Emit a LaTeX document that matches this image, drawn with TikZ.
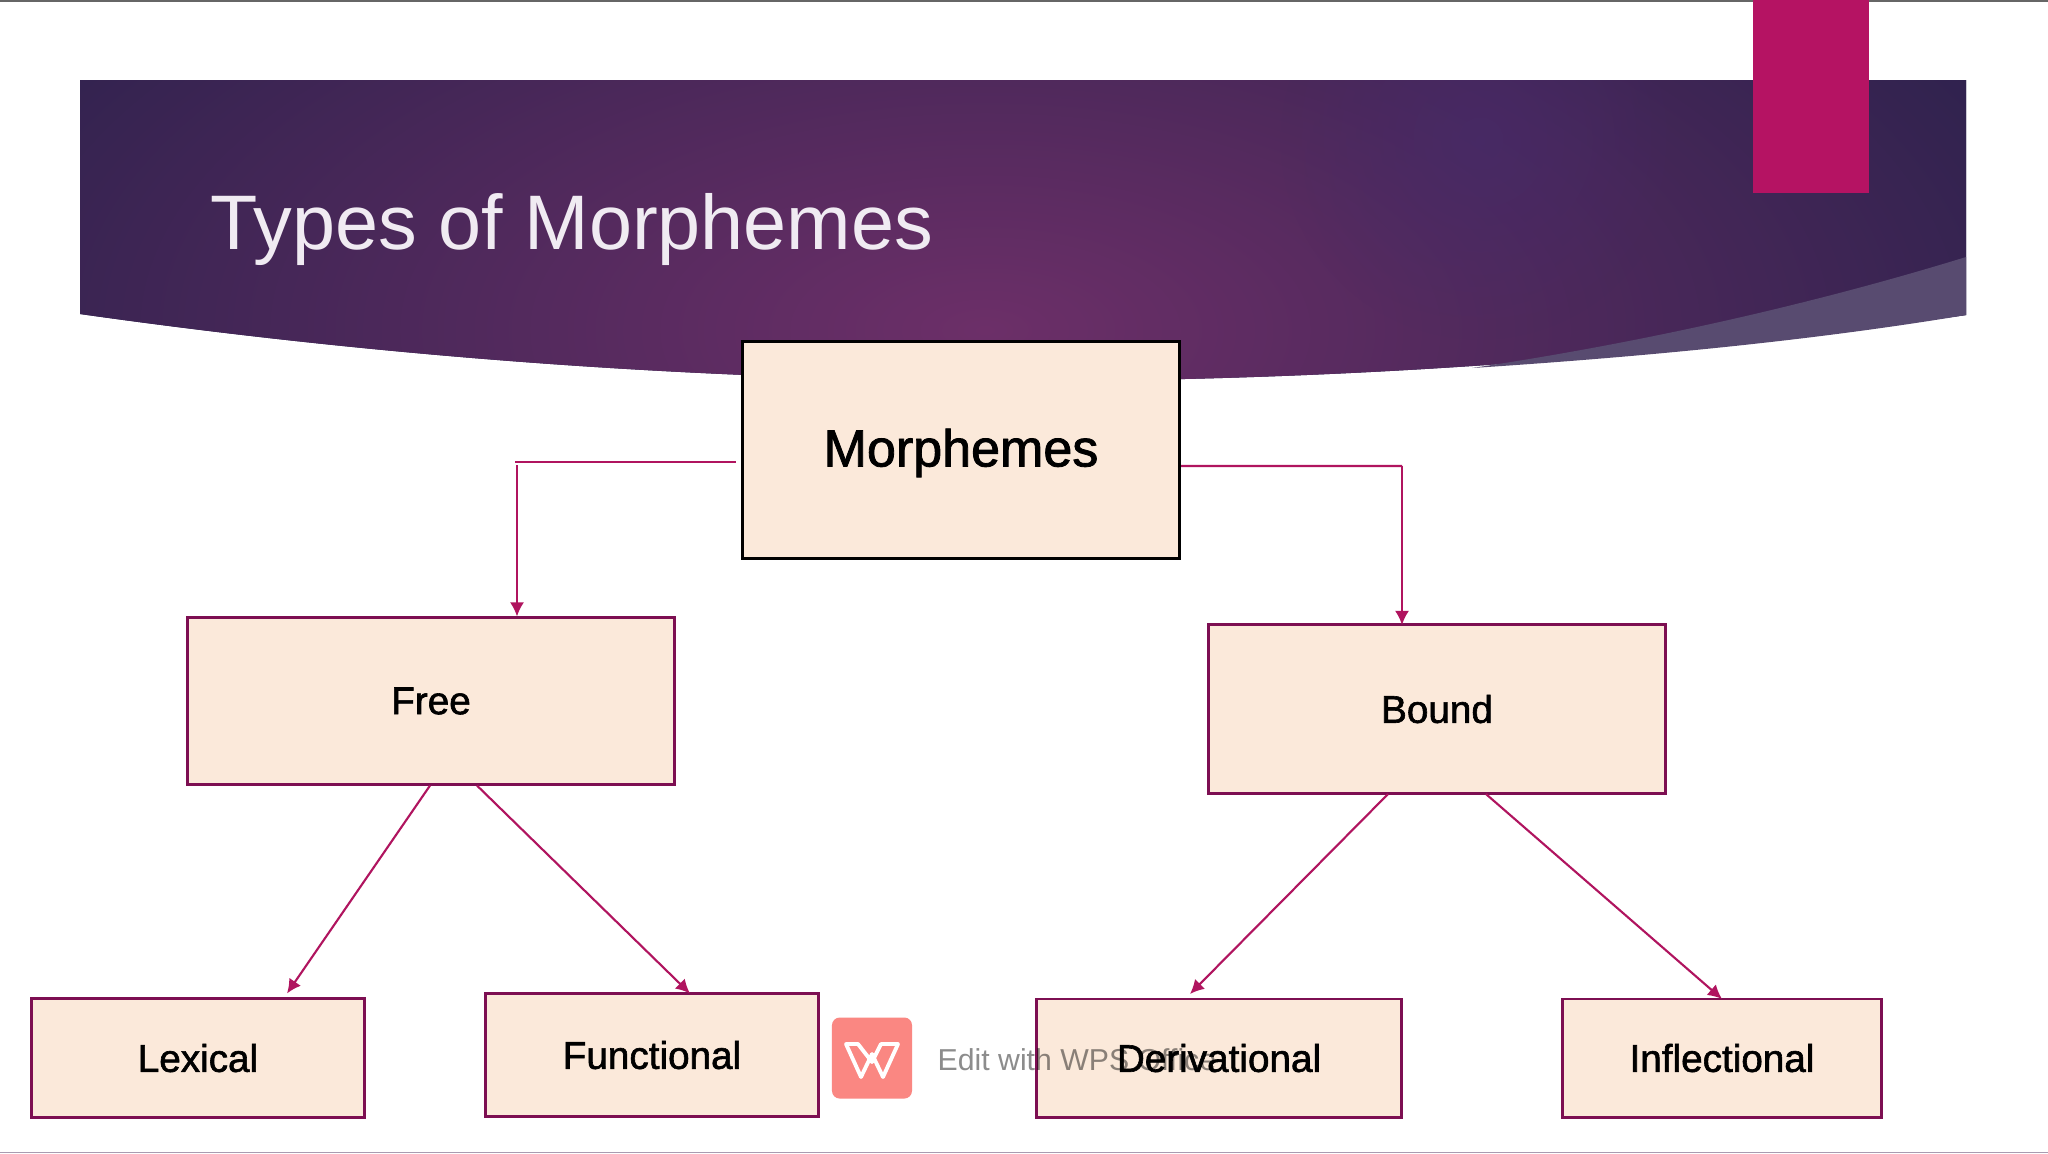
\documentclass[tikz,border=0pt]{standalone}
\usepackage{fontspec}
\setmainfont{Liberation Sans}
\usetikzlibrary{arrows.meta,calc,fadings}
\definecolor{bannerdark}{HTML}{26204A}
\definecolor{bannerglow}{HTML}{6C2F68}
\definecolor{bannerspot}{HTML}{472A68}
\definecolor{swoosh}{HTML}{584B70}
\definecolor{crimson}{HTML}{B51363}
\definecolor{boxfill}{HTML}{FBE9DA}
\definecolor{boxline}{HTML}{7D0F52}
\definecolor{linkline}{HTML}{B0145F}
\definecolor{wpsred}{HTML}{FA8782}
\definecolor{titletext}{HTML}{F0EBF2}
\definecolor{edgeline}{HTML}{A99BB0}
\tikzfading[name=spotfade,inner color=transparent!25,outer color=transparent!100]
\tikzset{
  morphbox/.style={draw=black,line width=0.85pt,fill=boxfill,outer sep=0pt,inner sep=0pt,text=black},
  typebox/.style={draw=boxline,line width=0.85pt,fill=boxfill,outer sep=0pt,inner sep=0pt,text=black},
  link/.style={draw=linkline,line width=0.6pt},
  arrowlink/.style={link,-{Latex[length=4pt,width=4pt]}},
  label/.style={font=\fontsize{11pt}{13pt}\selectfont\addfontfeature{FakeBold=1.6}}
}
\begin{document}
\begin{tikzpicture}[x=0.01cm,y=-0.01cm]
  \useasboundingbox (0,0) rectangle (2048,1153);
  \fill[white] (0,0) rectangle (2048,1153);
  \fill[black!60] (0,0) rectangle (2048,1.5);
  \fill[edgeline] (0,1151.5) rectangle (2048,1153);
  % banner
  \begin{scope}
    \clip (80,80) -- (1966,80) -- (1966,315) .. controls (1337,403) and (709,403) .. (80,314) -- cycle;
    \fill[bannerdark] (0,0) rectangle (2048,500);
    \shade[inner color=bannerglow,outer color=bannerdark] (985,330) ellipse (1300 and 620);
    \fill[bannerspot,path fading=spotfade] (1480,140) ellipse (200 and 200);
  \end{scope}
  \fill[swoosh] (1472,368) .. controls (1640,343) and (1810,305) .. (1966,257) -- (1966,315) .. controls (1810,341) and (1640,357) .. cycle;
  \fill[crimson] (1753,0) rectangle (1869,193);
  \node[anchor=base west,text=titletext,inner sep=0pt,font=\fontsize{22pt}{26pt}\selectfont] (title) at (210,249) {Types of Morphemes};
  % boxes
  \node[morphbox,minimum width=4.36cm,minimum height=2.17cm,text depth=1.4pt,font=\fontsize{14.8pt}{17pt}\selectfont\addfontfeature{FakeBold=1.6}] (morphemes) at (961,450) {Morphemes};
  \node[typebox,label,minimum width=4.86cm,minimum height=1.67cm] (free) at (431,701) {Free};
  \node[typebox,label,minimum width=4.57cm,minimum height=1.68cm] (bound) at (1437,709) {Bound};
  \node[typebox,label,minimum width=3.33cm,minimum height=1.19cm] (lexical) at (198,1058) {Lexical};
  \node[typebox,label,minimum width=3.33cm,minimum height=1.23cm] (functional) at (652,1055) {Functional};
  \node[typebox,minimum width=3.65cm,minimum height=1.18cm] (derivational) at (1219,1058) {};
  \node[typebox,label,minimum width=3.18cm,minimum height=1.18cm] (inflectional) at (1722,1058) {Inflectional};
  % watermark
  \node[fill=wpsred,rounded corners=2.2pt,minimum width=0.80cm,minimum height=0.81cm,inner sep=0pt] (wps) at (872,1058) {};
  \draw[white,line width=1.1pt,line join=round] (846,1044) -- (861,1077) -- (872,1054) -- (883,1077) -- (898,1044) -- (881,1044) -- (872,1062) -- (858,1044) -- cycle;
  \node[anchor=west,inner sep=0pt,text=black,opacity=0.45,font=\fontsize{8.6pt}{10pt}\selectfont] (wpstext) at (937,1060) {Edit with WPS Office};
  \node[label,text=black] (derivationaltext) at (derivational.center) {Derivational};
  % connectors
  \coordinate (leftstart) at ($(morphemes.west)+(-7,12)$);
  \coordinate (leftcorner) at (515,462);
  \coordinate (rightcorner) at ($(bound.north)+(-35,-159)$);
  \draw[link] (leftstart) -- (leftcorner);
  \draw[arrowlink] ($(free.north)+(86,-152)$) -- ($(free.north)+(86,-1)$);
  \draw[link] ($(morphemes.east)+(2,16)$) -- (rightcorner);
  \draw[arrowlink] (rightcorner) -- ($(bound.north)+(-35,0)$);
  \draw[arrowlink] ($(free.south)+(-1,1)$) -- ($(lexical.north)+(89,-5)$);
  \draw[arrowlink] ($(free.south)+(46,1)$) -- ($(functional.north)+(38,0)$);
  \draw[arrowlink] ($(bound.south)+(-49,1)$) -- ($(derivational.north)+(-29,-5)$);
  \draw[arrowlink] ($(bound.south)+(49,1)$) -- (inflectional.north);
\end{tikzpicture}
\end{document}
